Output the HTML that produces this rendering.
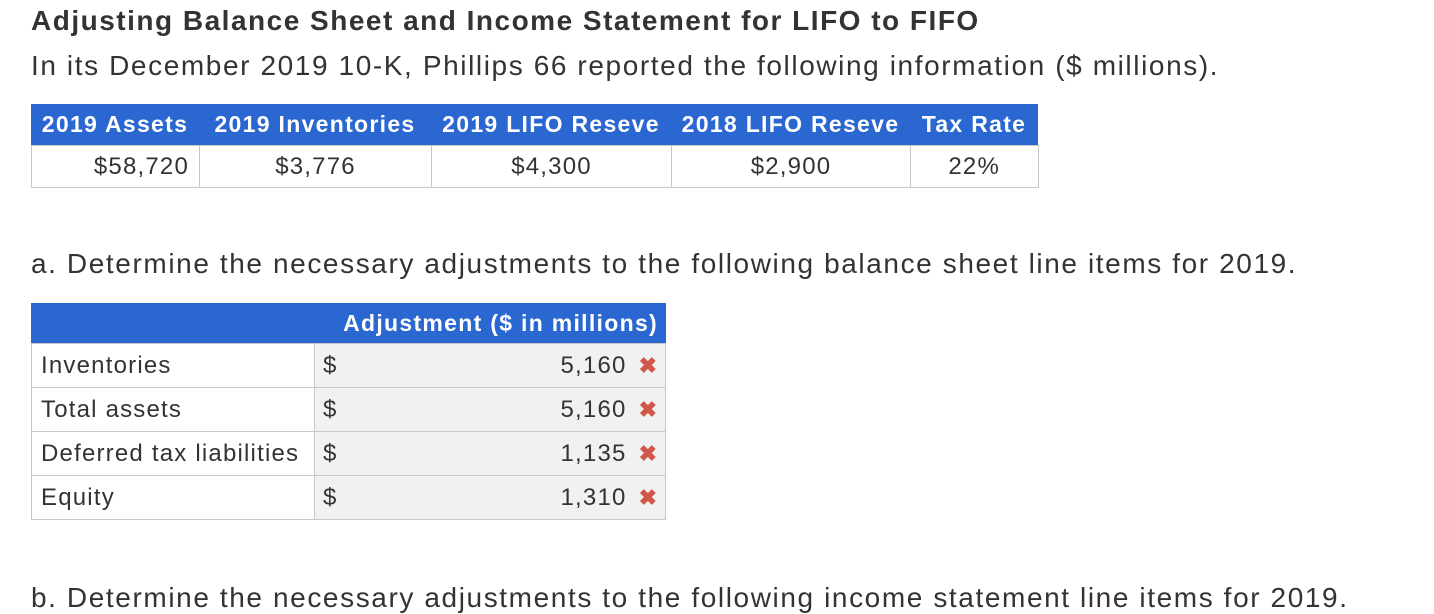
<!DOCTYPE html>
<html><head><meta charset="utf-8"><style>
body{margin:0;width:1434px;height:594px;overflow:hidden;background:#fff;font-family:"Liberation Sans",sans-serif;color:#333;position:relative}
.t{position:absolute;white-space:nowrap;letter-spacing:1.6px}
.c{position:absolute;box-sizing:border-box;display:flex;align-items:center;white-space:nowrap;letter-spacing:1.2px}
.h{background:#2a67d0;color:#fff;font-weight:bold;font-size:23px;justify-content:center;letter-spacing:1.3px}
.d{border:1px solid #c8c8c8;font-size:24px;color:#333}
.g{background:#f1f1f1}
.x{color:#d0574a;font-weight:bold;font-size:22px;margin-left:12px;letter-spacing:0}
</style></head><body>
<div class="t" style="left:31px;top:5px;font-size:28px;font-weight:bold;letter-spacing:1.5px">Adjusting Balance Sheet and Income Statement for LIFO to FIFO</div>
<div class="t" style="left:31px;top:50px;font-size:28px">In its December 2019 10-K, Phillips 66 reported the following information ($ millions).</div>

<div>
<div class="c h" style="left:31px;top:104px;width:168px;height:41px">2019 Assets</div>
<div class="c h" style="left:199px;top:104px;width:232px;height:41px">2019 Inventories</div>
<div class="c h" style="left:431px;top:104px;width:240px;height:41px">2019 LIFO Reseve</div>
<div class="c h" style="left:671px;top:104px;width:239px;height:41px">2018 LIFO Reseve</div>
<div class="c h" style="left:910px;top:104px;width:128px;height:41px">Tax Rate</div>
<div class="c d" style="left:31px;top:145px;width:169px;height:43px;justify-content:flex-end;padding-right:10px">$58,720</div>
<div class="c d" style="left:199px;top:145px;width:233px;height:43px;justify-content:center">$3,776</div>
<div class="c d" style="left:431px;top:145px;width:241px;height:43px;justify-content:center">$4,300</div>
<div class="c d" style="left:671px;top:145px;width:240px;height:43px;justify-content:center">$2,900</div>
<div class="c d" style="left:910px;top:145px;width:129px;height:43px;justify-content:flex-end;padding-right:38px">22%</div>
</div>

<div class="t" style="left:31px;top:248px;font-size:28px">a. Determine the necessary adjustments to the following balance sheet line items for 2019.</div>

<div>
<div class="c h" style="left:31px;top:303px;width:283px;height:41px"></div>
<div class="c h" style="left:314px;top:303px;width:352px;height:41px;justify-content:flex-end;padding-right:8px">Adjustment ($ in millions)</div>

<div class="c d" style="left:31px;top:343px;width:284px;height:45px;padding-left:9px">Inventories</div>
<div class="c d g" style="left:314px;top:343px;width:352px;height:45px;padding:0 8px"><span>$</span><span style="margin-left:auto">5,160</span><span class="x">✖</span></div>

<div class="c d" style="left:31px;top:387px;width:284px;height:45px;padding-left:9px">Total assets</div>
<div class="c d g" style="left:314px;top:387px;width:352px;height:45px;padding:0 8px"><span>$</span><span style="margin-left:auto">5,160</span><span class="x">✖</span></div>

<div class="c d" style="left:31px;top:431px;width:284px;height:45px;padding-left:9px">Deferred tax liabilities</div>
<div class="c d g" style="left:314px;top:431px;width:352px;height:45px;padding:0 8px"><span>$</span><span style="margin-left:auto">1,135</span><span class="x">✖</span></div>

<div class="c d" style="left:31px;top:475px;width:284px;height:45px;padding-left:9px">Equity</div>
<div class="c d g" style="left:314px;top:475px;width:352px;height:45px;padding:0 8px"><span>$</span><span style="margin-left:auto">1,310</span><span class="x">✖</span></div>
</div>

<div class="t" style="left:31px;top:582px;font-size:28px">b. Determine the necessary adjustments to the following income statement line items for 2019.</div>
</body></html>
